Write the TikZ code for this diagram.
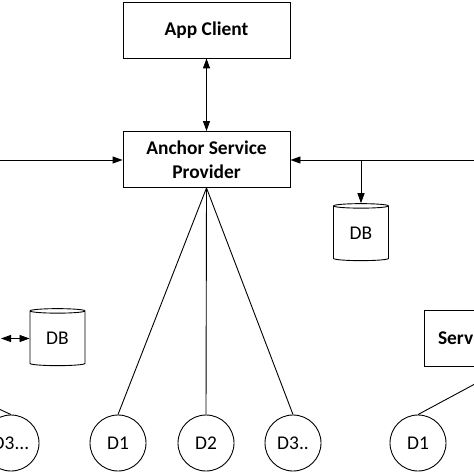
\documentclass[tikz,border=0pt]{standalone}
\usepackage{fontspec}
\setmainfont{Carlito}
\usetikzlibrary{arrows.meta,shapes.geometric}

\begin{document}
\begin{tikzpicture}[x=1bp,y=-1bp,line width=0.9bp,
  box/.style={draw,fill=white,minimum width=167bp,minimum height=56bp,inner sep=0pt,align=center,font=\fontsize{19.5}{24}\selectfont\bfseries},
  dev/.style={draw,circle,minimum size=56bp,inner sep=0pt,font=\fontsize{19.5}{24}\selectfont},
  store/.style={draw,fill=white,cylinder,shape border rotate=90,aspect=0.2,minimum width=55bp,minimum height=57bp,inner sep=0pt,font=\fontsize{19.5}{24}\selectfont},
  tip/.style={-{Triangle[length=10bp,width=7bp]}},
  tips/.style={{Triangle[length=10bp,width=7bp]}-{Triangle[length=10bp,width=7bp]}}]
\useasboundingbox (0,0) rectangle (474,474);
\clip (0,0) rectangle (474,474);
\node[box] (app) at (206.5,30) {App Client};
\node[box] (asp) at (206.5,159.5) {Anchor Service\\Provider};
\node[store] (dbr) at (361,233.5) {DB};
\node[store] (dbl) at (57.5,338.5) {DB};
\node[box] (serv) at (507.5,338) {};
\node[anchor=west,inner sep=0pt,font=\fontsize{19.5}{24}\selectfont\bfseries] (servtxt) at ([xshift=14bp]serv.west) {Serv};
\node[dev] (ld3) at (11,443) {D3...};
\node[dev] (d1) at (118,443) {D1};
\node[dev] (d2) at (206,443) {D2};
\node[dev] (d3) at (293,443) {D3..};
\node[dev] (rd1) at (418,443) {D1};
\coordinate (lin) at (0,160);
\coordinate (rin) at (474,160);
\coordinate (tap) at (dbr.north |- rin);
\coordinate (lout) at (1,338.5);
\coordinate (lup) at (-12,404);
\draw[tips] (app) -- (asp);
\draw[tip] (lin) -- (lin -| asp.west);
\draw[tip] (rin) -- (rin -| asp.east);
\draw[tip] (tap) -- (dbr.north);
\draw[tips] (lout) -- (dbl.west);
\draw (asp.south) -- (d1.north);
\draw (asp.south) -- (d2.north);
\draw (asp.south) -- (d3.north);
\draw (rd1.north) -- (serv.south);
\draw (ld3.north) -- (lup);
\end{tikzpicture}
\end{document}
